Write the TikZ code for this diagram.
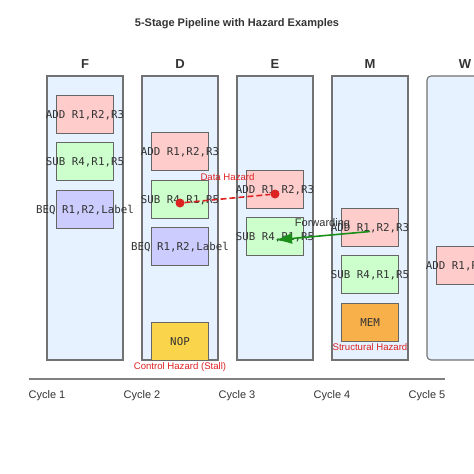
\documentclass[tikz,border=0pt]{standalone}
\usepackage{fontspec}
\setmainfont{Liberation Sans}
\setmonofont{DejaVu Sans Mono}
\usetikzlibrary{positioning,arrows.meta}

\definecolor{stagefill}{HTML}{E6F2FF}
\definecolor{stageline}{HTML}{727272}
\definecolor{addred}{HTML}{FFCCCC}
\definecolor{subgreen}{HTML}{CCFFCC}
\definecolor{beqblue}{HTML}{CCCCFF}
\definecolor{nopgold}{HTML}{FAD44A}
\definecolor{memorange}{HTML}{F8B04A}
\definecolor{hazred}{HTML}{DD2222}
\definecolor{fwdgreen}{HTML}{1A8F1A}
\definecolor{inktext}{HTML}{333333}

\begin{document}
\begin{tikzpicture}[
    x=1pt, y=-1pt,
    title/.style={font=\fontsize{11}{13}\selectfont\bfseries, text=inktext},
    stage/.style={rectangle, draw=stageline, line width=1.1pt, fill=stagefill, minimum width=76pt, minimum height=284pt, inner sep=0pt, outer sep=0pt},
    stagelabel/.style={font=\fontsize{13}{15}\selectfont\bfseries, text=inktext},
    instr/.style={rectangle, draw=black!60, line width=0.9pt, minimum width=57pt, minimum height=38pt, inner sep=0pt, outer sep=0pt},
    code/.style={font=\fontsize{10.8}{12}\selectfont\ttfamily, text=inktext, yshift=-1pt},
    hazard/.style={font=\fontsize{9.6}{11}\selectfont, text=hazred},
    hazdot/.style={circle, fill=hazred, minimum size=9pt, inner sep=0pt},
    cycle/.style={font=\fontsize{11}{13}\selectfont, text=inktext},
    timeline/.style={draw=black!50, line width=1.2pt},
    haz/.style={hazred, line width=1.6pt, dash pattern=on 6pt off 3pt},
    fwd/.style={-{Latex[length=17pt,width=11pt]}, fwdgreen, line width=1.6pt},
    node distance=9.5pt
]
\clip (0,0) rectangle (474,474);

% Title
\node[title] (title) at (237,24) {5-Stage Pipeline with Hazard Examples};

% Pipeline stages
\node[stage] (fetch) at (85,218) {};
\node[stage, right=19pt of fetch] (decode) {};
\node[stage, right=19pt of decode] (execute) {};
\node[stage, right=19pt of execute] (memory) {};
\node[stage, rounded corners=4pt, right=19pt of memory] (writeback) {};

\node[stagelabel, above=4pt of fetch] (fhead) {F};
\node[stagelabel, above=4pt of decode] (dhead) {D};
\node[stagelabel, above=4pt of execute] (ehead) {E};
\node[stagelabel, above=4pt of memory] (mhead) {M};
\node[stagelabel, above=4pt of writeback] (whead) {W};

% Instructions in F
\node[instr, fill=addred, label={[code]center:{ADD R1,R2,R3}}, below=19pt of fetch.north] (fadd) {};
\node[instr, fill=subgreen, label={[code]center:{SUB R4,R1,R5}}, below=of fadd] (fsub) {};
\node[instr, fill=beqblue, label={[code]center:{BEQ R1,R2,Label}}, below=of fsub] (fbeq) {};

% Instructions in D
\node[instr, fill=addred, label={[code]center:{ADD R1,R2,R3}}, below=56.5pt of decode.north] (dadd) {};
\node[instr, fill=subgreen, label={[code]center:{SUB R4,R1,R5}}, below=of dadd] (dsub) {};
\node[instr, fill=beqblue, label={[code]center:{BEQ R1,R2,Label}}, below=of dsub] (dbeq) {};
\node[instr, fill=nopgold, label={[code]center:{NOP}}, above=0pt of decode.south] (nop) {};

% Instructions in E
\node[instr, fill=addred, label={[code]center:{ADD R1,R2,R3}}, below=94pt of execute.north] (eadd) {};
\node[instr, fill=subgreen, label={[code]center:{SUB R4,R1,R5}}, below=of eadd] (esub) {};

% Instructions in M
\node[instr, fill=addred, label={[code]center:{ADD R1,R2,R3}}, below=132pt of memory.north] (madd) {};
\node[instr, fill=subgreen, label={[code]center:{SUB R4,R1,R5}}, below=of madd] (msub) {};
\node[instr, fill=memorange, label={[code]center:{MEM}}, below=of msub] (mem) {};

% Instructions in W
\node[instr, fill=addred, label={[code]center:{ADD R1,R2,R3}}, below=170pt of writeback.north] (wadd) {};

% Hazard notes
\node[hazard, below=-1pt of nop] (control) {Control Hazard (Stall)};
\node[hazard, below=-1pt of mem] (structural) {Structural Hazard};

% Data hazard
\node[hazdot] (rawfrom) at ([yshift=-4pt]dsub.center) {};
\node[hazdot] (rawto) at ([yshift=-5pt]eadd.center) {};
\draw[haz] (rawfrom) -- node[hazard, above=14pt] {Data Hazard} (rawto);

% Forwarding path
\coordinate (fwdfrom) at ([yshift=-4.5pt]madd.center);
\coordinate (fwdto) at ([yshift=-3.5pt]esub.center);
\draw[fwd] (fwdfrom) -- node[cycle, above=3pt] {Forwarding} (fwdto);

% Clock cycles
\coordinate (tlstart) at (28.5,379);
\coordinate (tlend) at (445,379);
\draw[timeline] (tlstart) -- (tlend);
\node[cycle] (cyc1) at (fetch.west |- 0,396) {Cycle 1};
\node[cycle] (cyc2) at (decode.west |- 0,396) {Cycle 2};
\node[cycle] (cyc3) at (execute.west |- 0,396) {Cycle 3};
\node[cycle] (cyc4) at (memory.west |- 0,396) {Cycle 4};
\node[cycle] (cyc5) at (writeback.west |- 0,396) {Cycle 5};

\end{tikzpicture}
\end{document}
